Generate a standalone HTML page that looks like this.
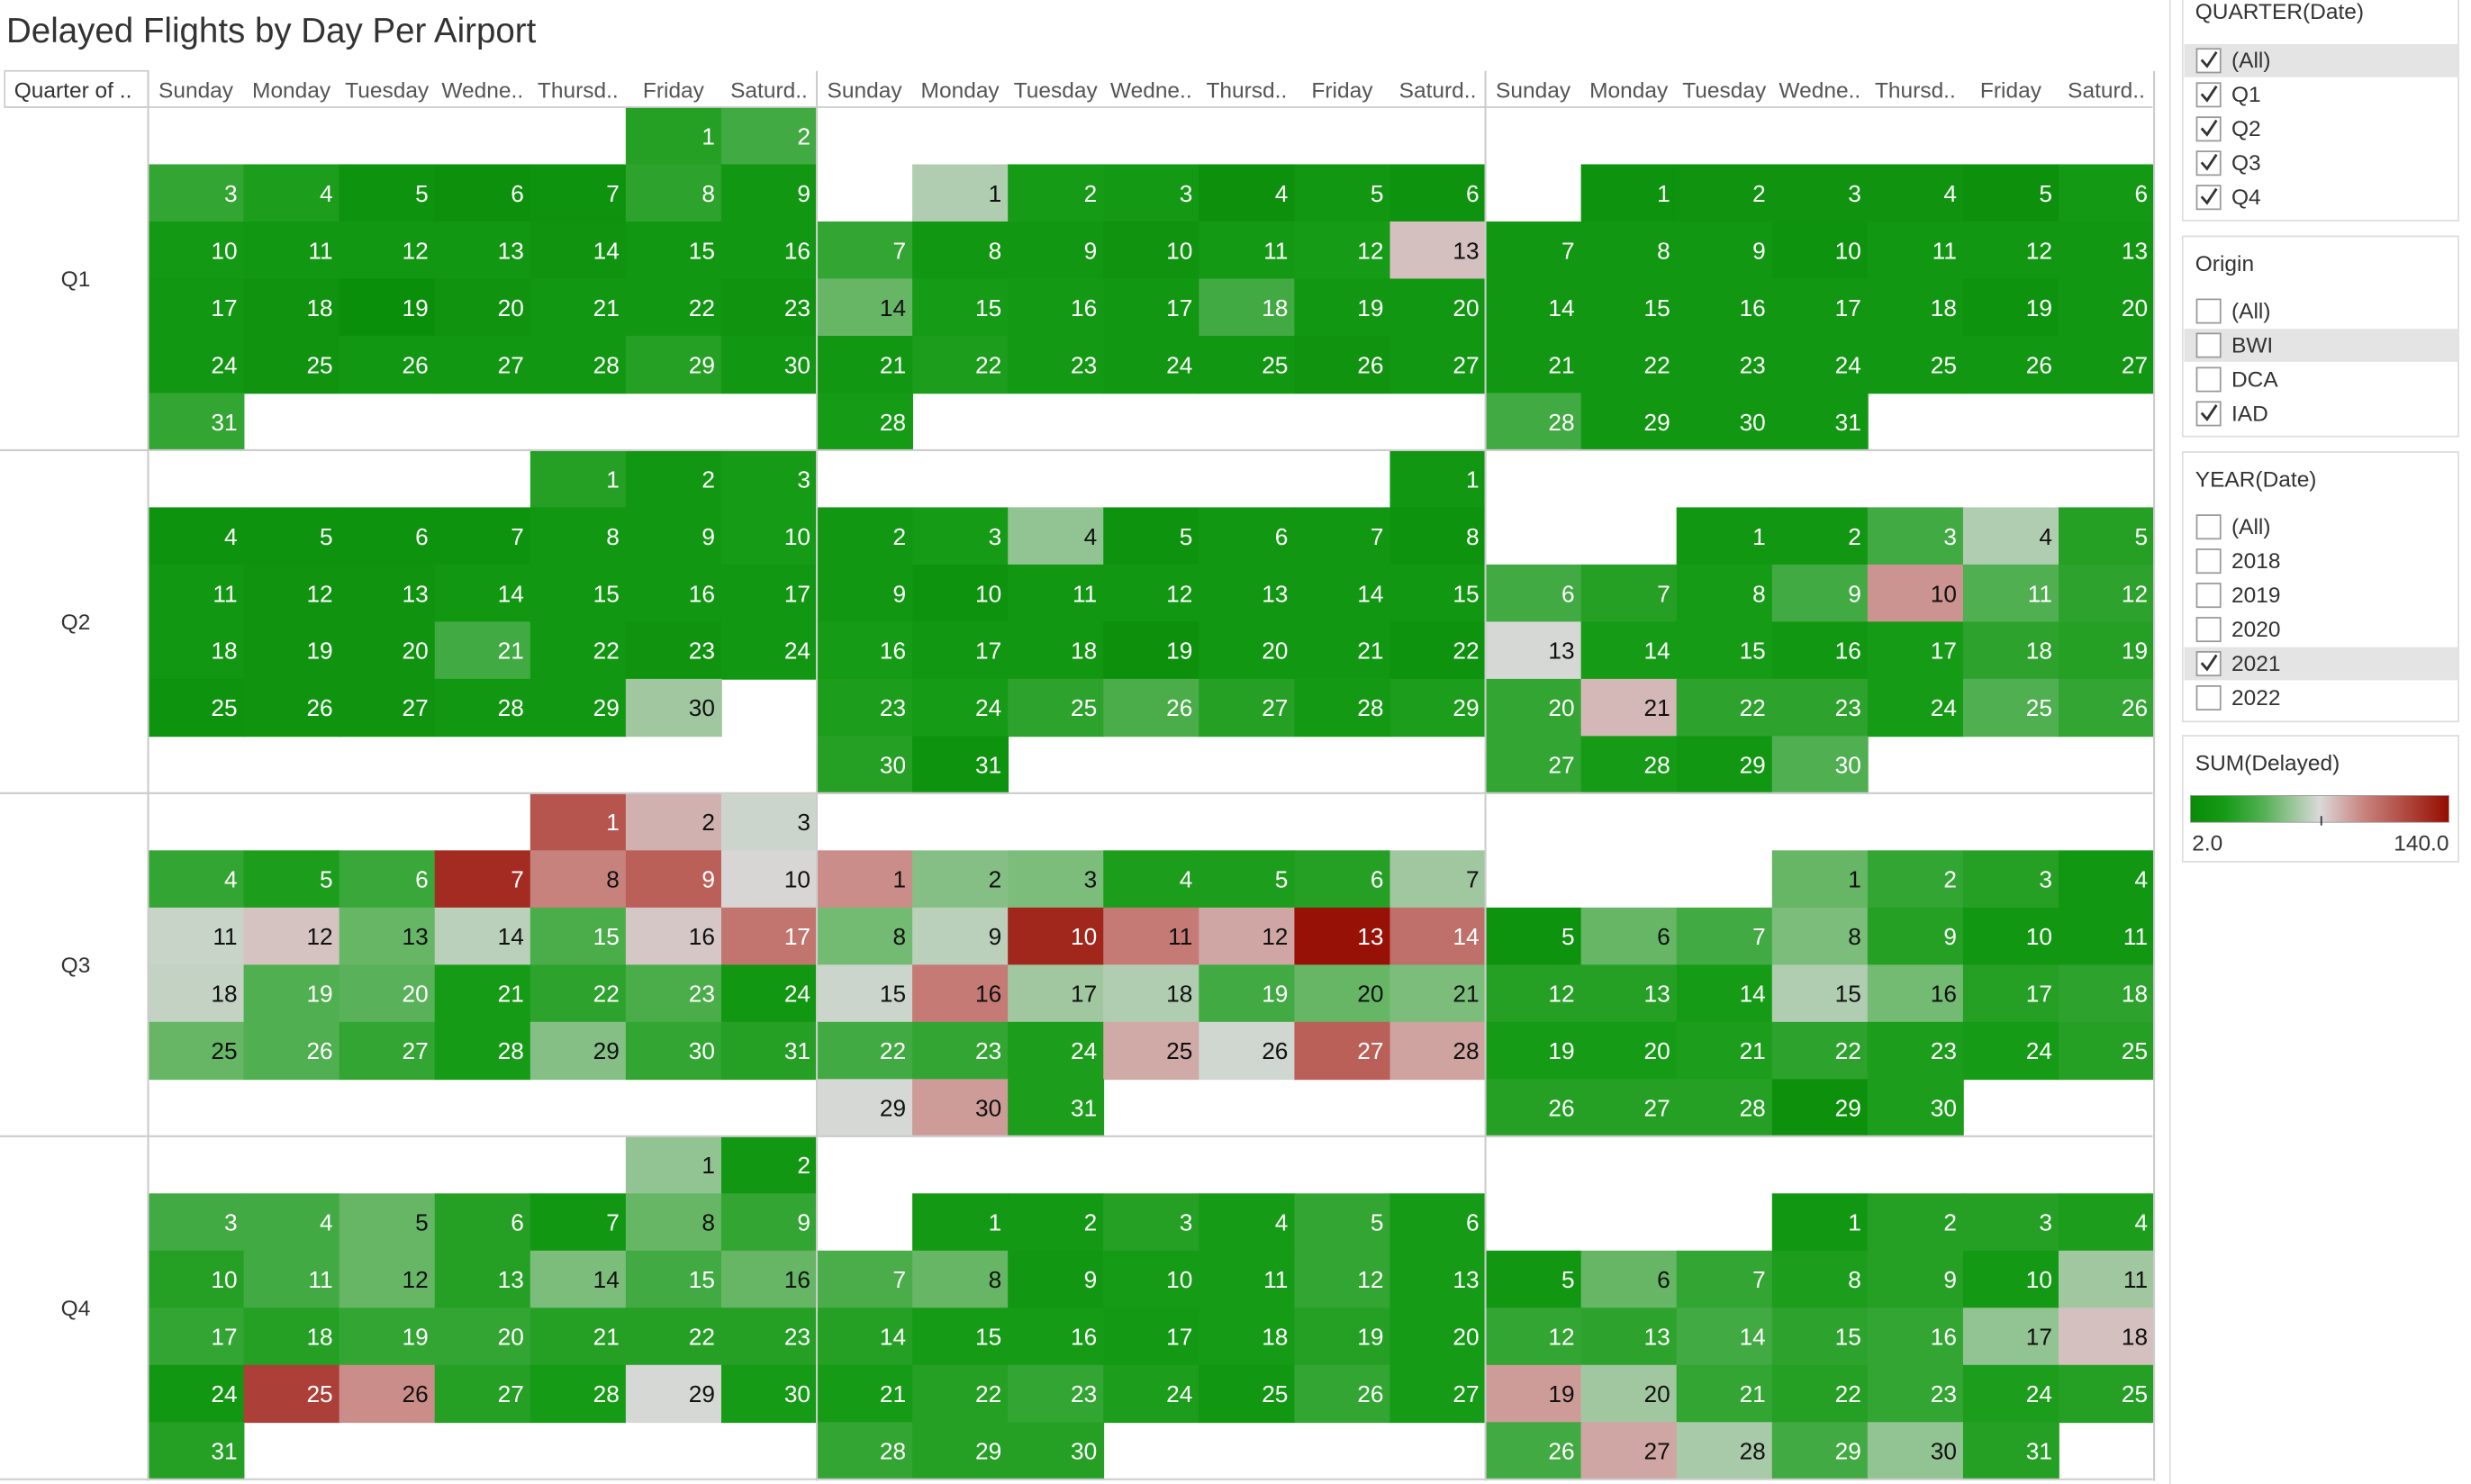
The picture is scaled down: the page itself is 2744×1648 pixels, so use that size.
<!DOCTYPE html>
<html><head><meta charset="utf-8"><style>
html,body{margin:0;padding:0;background:#fff;}
svg{display:block;font-family:"Liberation Sans","DejaVu Sans",sans-serif;}
</style></head><body>
<svg id="chart" width="2744" height="1648" viewBox="0 0 1568 942" preserveAspectRatio="none" xmlns="http://www.w3.org/2000/svg">
<text x="4" y="27" font-size="22" fill="#333">Delayed Flights by Day Per Airport</text>
<g id="grid"></g>
<g id="side"></g>
</svg>
<script>
const NS='http://www.w3.org/2000/svg';
const dayLabels=['Sunday','Monday','Tuesday','Wedne..','Thursd..','Friday','Saturd..'];
const quarterLabels=['Q1','Q2','Q3','Q4'];
const year=2021;
const jan=[25,35,30,22,10,8,10,28,15,18,15,15,15,12,15,15,15,12,5,12,15,15,12,15,12,15,15,15,25,15,30];
const feb=[62,20,18,8,15,10,30,15,15,12,18,20,78,45,20,18,15,35,15,15,15,22,18,15,15,12,15,20];
const mar=[10,12,12,12,8,18,15,15,15,10,15,15,15,15,15,15,15,15,10,15,15,15,15,15,15,15,15,35,15,15,15];
const apr=[25,15,20,10,10,10,10,15,15,20,15,12,12,15,15,15,15,15,12,12,35,15,12,15,10,12,12,15,15,58];
const may=[15,15,20,55,10,15,15,10,15,10,15,15,15,15,15,20,15,15,8,15,15,10,22,20,28,38,25,18,22,25,10];
const jun=[15,15,35,62,25,35,25,20,35,90,40,28,70,20,20,15,20,28,25,30,80,28,28,20,40,30,30,20,15,40];
const jul=[112,82,68,30,22,32,128,95,108,72,67,77,45,64,38,76,100,66,40,42,20,28,38,15,45,40,30,20,52,30,25];
const aug=[92,52,50,22,22,25,58,48,64,130,98,85,138,102,68,98,58,62,35,45,50,35,30,22,84,69,108,86,70,88,22];
const sep=[45,30,25,15,10,45,35,50,25,15,15,25,25,20,62,48,25,28,20,20,22,28,22,20,25,25,25,25,8,22];
const oct=[55,15,35,35,45,25,15,45,30,25,35,45,25,50,35,45,30,25,30,30,25,25,25,15,120,92,25,20,70,20,25];
const nov=[18,18,25,20,30,20,38,45,15,20,20,30,20,25,20,20,18,20,25,20,20,25,30,22,15,30,20,30,25,25];
const dec=[15,25,25,22,15,45,30,22,25,18,58,30,28,35,28,30,55,78,88,58,30,25,30,22,25,35,85,60,35,55,25];
const months=[jan,feb,mar,apr,may,jun,jul,aug,sep,oct,nov,dec];
const vmin=2, vmax=140, vmid=71;

function lerp(a,b,t){return a.map((x,i)=>Math.round(x+(b[i]-x)*t));}
function color(v){
  const stops=[[2,[8,140,8]],[20,[22,155,22]],[40,[80,175,80]],[vmid,[217,217,217]],[95,[200,130,125]],[vmax,[150,12,0]]];
  if(v<=stops[0][0])return 'rgb('+stops[0][1]+')';
  for(let i=1;i<stops.length;i++){if(v<=stops[i][0]){const t=(v-stops[i-1][0])/(stops[i][0]-stops[i-1][0]);return 'rgb('+lerp(stops[i-1][1],stops[i][1],t)+')';}}
  return 'rgb('+stops[stops.length-1][1]+')';
}
function mk(tag,attrs,parent){const e=document.createElementNS(NS,tag);for(const k in attrs)e.setAttribute(k,attrs[k]);parent.appendChild(e);return e;}

const grid=document.getElementById('grid');
const X0=94, PW=424.3, CW=PW/7, Y0=68, QH=217.75, RH=QH/6;
const xScale=(panel,dow)=>X0+panel*PW+dow*CW;
const yScale=(q,row)=>Y0+q*QH+row*RH;

let hb=mk('rect',{x:3,y:45,width:91,height:23,fill:'none',stroke:'#ccc','stroke-width':1},grid);

let ht=mk('text',{x:9,y:62,'font-size':14,fill:'#333'},grid);ht.textContent='Quarter of ..';

for(let p=0;p<3;p++)for(let d=0;d<7;d++){
  const t=mk('text',{x:xScale(p,d)+CW/2,y:62,'font-size':14,fill:'#555','text-anchor':'middle'},grid);
  t.textContent=dayLabels[d];
  
  
}
months.forEach((vals,m)=>{
  const q=Math.floor(m/3), p=m%3;
  const first=new Date(year,m,1).getDay();
  const rowOff=first>=4?0:1;
  vals.forEach((v,i)=>{
    const day=i+1, idx=first+i, row=Math.floor(idx/7)+rowOff, dow=idx%7;
    const x=xScale(p,dow), y=yScale(q,row);
    const r=mk('rect',{x:x,y:y,width:CW+0.5,height:RH+0.5,fill:color(v)},grid);
    
    
    const light=(v>42&&v<100);
    const t=mk('text',{x:x+CW-4,y:y+RH/2+5.5,'font-size':15,fill:light?'#111':'#fff','text-anchor':'end'},grid);
    t.textContent=day;
    
    
  });
});
for(let q=0;q<4;q++){
  const t=mk('text',{x:48,y:yScale(q,3)+5,'font-size':14,fill:'#333','text-anchor':'middle'},grid);
  t.textContent=quarterLabels[q];
  
  
  const l=mk('line',{x1:0,x2:1366,y1:yScale(q+1,0),y2:yScale(q+1,0),stroke:'#ccc','stroke-width':1.2},grid);
  
  
}
mk('line',{x1:3,x2:1366,y1:68,y2:68,stroke:'#ccc','stroke-width':1},grid);
for(let p=0;p<=3;p++){
  const l=mk('line',{x1:xScale(p,0),x2:xScale(p,0),y1:45,y2:940,stroke:'#ccc','stroke-width':1.2},grid);
  
  
}
mk('line',{x1:1377,x2:1377,y1:0,y2:942,stroke:'#ddd','stroke-width':1},grid);

const side=document.getElementById('side');
function box(y,h,title,name){
  const r=mk('rect',{x:1385,y:y,width:175,height:h,fill:'#fff',stroke:'#ddd','stroke-width':1},side);
  
  const t=mk('text',{x:1393,y:y+22,'font-size':14,fill:'#333'},side);t.textContent=title;
  
}
function item(y,label,checked,hl){
  if(hl){const b=mk('rect',{x:1386,y:y-10,width:174,height:21,fill:'#e4e4e4'},side);}
  const c=mk('rect',{x:1394,y:y-7,width:15,height:15,fill:'#fff',stroke:'#999','stroke-width':1},side);
  
  if(checked)mk('path',{d:`M${1397} ${y} l3.5 4 l6 -9`,fill:'none',stroke:'#333','stroke-width':1.6},side);
  const t=mk('text',{x:1416,y:y+5,'font-size':14,fill:'#333'},side);t.textContent=label;
  
}
box(-10,150,'QUARTER(Date)','quarter-filter');
[['(All)',1,1],['Q1',1,0],['Q2',1,0],['Q3',1,0],['Q4',1,0]].forEach((o,i)=>item(38+i*21.7,o[0],o[1],o[2]));
box(150,127,'Origin','origin-filter');
[['(All)',0,0],['BWI',0,1],['DCA',0,0],['IAD',1,0]].forEach((o,i)=>item(197+i*21.7,o[0],o[1],o[2]));
box(287,171,'YEAR(Date)','year-filter');
[['(All)',0,0],['2018',0,0],['2019',0,0],['2020',0,0],['2021',1,1],['2022',0,0]].forEach((o,i)=>item(334+i*21.7,o[0],o[1],o[2]));
box(467,80,'SUM(Delayed)','color-legend');
const defs=mk('defs',{},side);
const g=mk('linearGradient',{id:'lg',x1:0,x2:1,y1:0,y2:0},defs);
[vmin,20,40,vmid,95,vmax].forEach(v=>mk('stop',{offset:(v-vmin)/(vmax-vmin),'stop-color':color(v)},g));
const gb=mk('rect',{x:1390,y:505,width:164,height:17,fill:'url(#lg)',stroke:'#999','stroke-width':0.5},side);

mk('line',{x1:1473,x2:1473,y1:518,y2:524,stroke:'#333','stroke-width':1},side);
let l1=mk('text',{x:1391,y:540,'font-size':14,fill:'#333'},side);l1.textContent=vmin.toFixed(1);

let l2=mk('text',{x:1554,y:540,'font-size':14,fill:'#333','text-anchor':'end'},side);l2.textContent=vmax.toFixed(1);

</script>
</body></html>
